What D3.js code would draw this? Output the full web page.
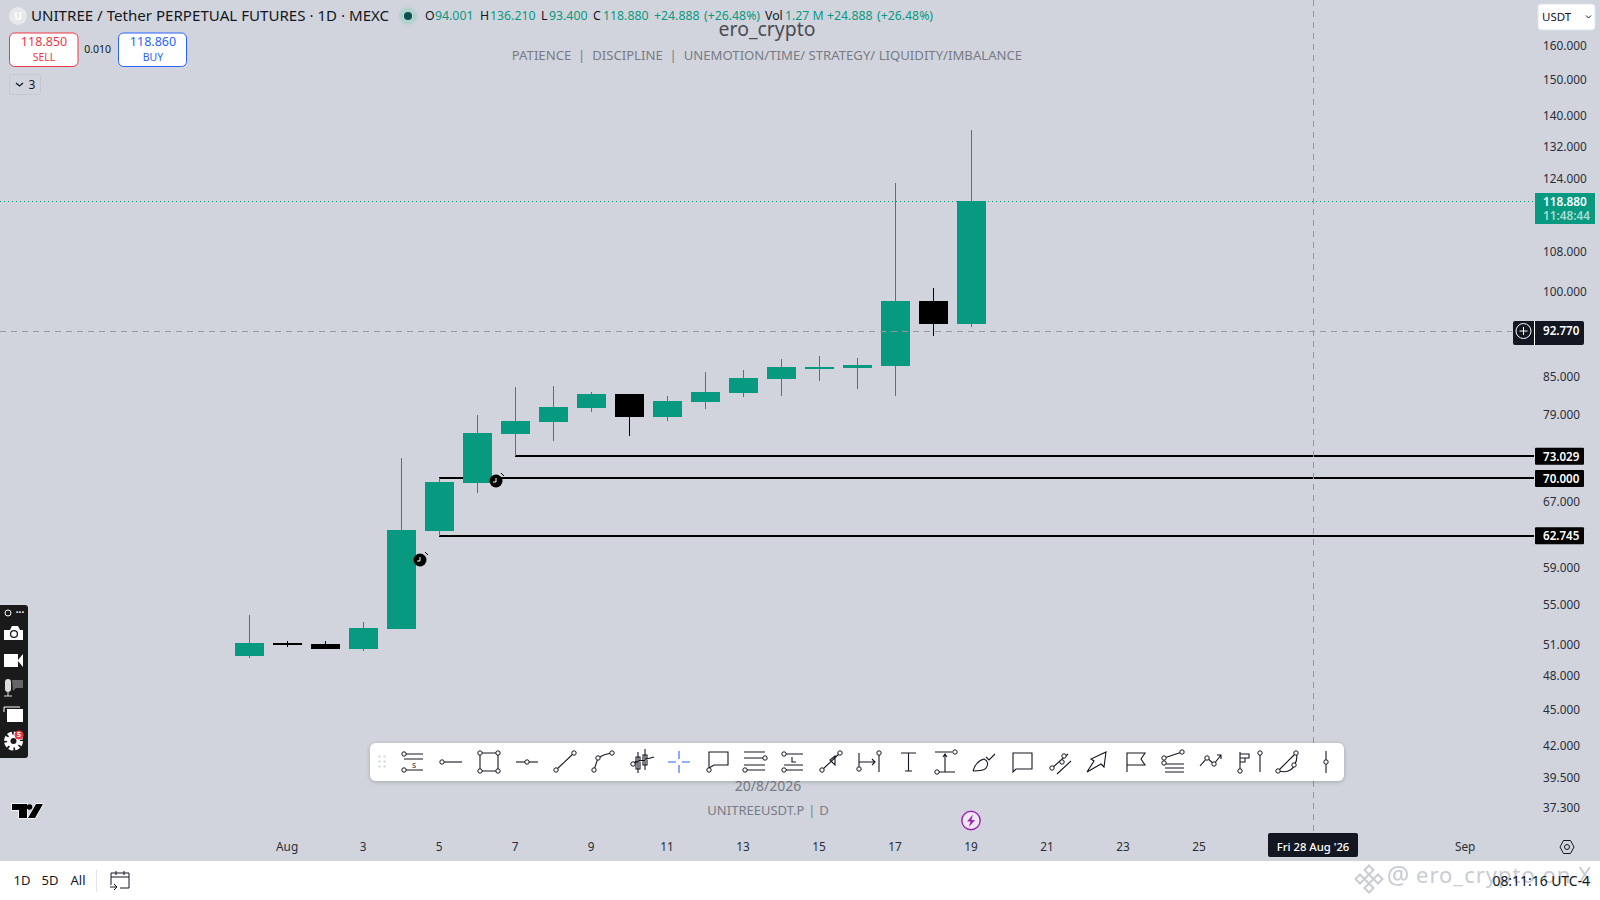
<!DOCTYPE html>
<html>
<head>
<meta charset="utf-8">
<script src="https://cdnjs.cloudflare.com/ajax/libs/d3/7.8.5/d3.min.js"></script>
<style>
	html, body { margin: 0; padding: 0; background: #d1d4dc; overflow: hidden; }
	svg { display: block; }
	text { font-family: "Noto Sans", "Open Sans", sans-serif; }
	.axis text { font-size: 11.8px; fill: #2a2e39; }
	.axis path, .axis line { display: none; }
	.crisp { shape-rendering: crispEdges; }
</style>
</head>
<body>
<div id="content"></div>
<script>
var days = [
	"2026-07-31", "2026-08-01", "2026-08-02", "2026-08-03", "2026-08-04",
	"2026-08-05", "2026-08-06", "2026-08-07", "2026-08-08", "2026-08-09",
	"2026-08-10", "2026-08-11", "2026-08-12", "2026-08-13", "2026-08-14",
	"2026-08-15", "2026-08-16", "2026-08-17", "2026-08-18", "2026-08-19"
];
var opens = [49.85, 51.11, 51.01, 50.53, 52.49, 63.30, 69.38, 76.19, 77.97, 80.08, 82.24, 78.72, 81.01, 82.40, 84.64, 86.43, 86.43, 86.77, 98.24, 94.001];
var highs = [53.92, 51.31, 51.31, 53.20, 72.78, 70.00, 79.01, 83.36, 83.51, 82.56, 82.24, 81.94, 85.78, 86.11, 87.94, 88.43, 88.10, 123.09, 100.70, 136.21];
var lows = [49.66, 50.72, 50.53, 50.34, 52.49, 62.745, 68.08, 73.029, 75.18, 79.47, 75.90, 78.11, 79.92, 81.78, 81.94, 84.32, 83.04, 81.94, 91.89, 93.40];
var closes = [51.11, 50.92, 50.53, 52.60, 63.43, 69.52, 76.33, 78.11, 80.22, 82.24, 78.72, 81.15, 82.56, 84.80, 86.59, 86.59, 86.93, 98.24, 94.00, 118.88];

var priceTicks = [160, 150, 140, 132, 124, 108, 100, 85, 79, 67, 59, 55, 51, 48, 45, 42, 39.5, 37.3];
var dayTicks = [
	"2026-08-01", "2026-08-03", "2026-08-05", "2026-08-07", "2026-08-09", "2026-08-11", "2026-08-13",
	"2026-08-15", "2026-08-17", "2026-08-19", "2026-08-21", "2026-08-23", "2026-08-25", "2026-09-01"
];

var levelPrices = [73.029, 70, 62.745];
var levelStarts = ["2026-08-07", "2026-08-05", "2026-08-05"];
var lastPrice = 118.88;
var crossPrice = 92.77;
var crossDay = "2026-08-28";

var green = "#089981";
var ink = "#131722";
var grey = "#787b86";

var parseDay = d3.utcParse("%Y-%m-%d");

var x = d3.scaleUtc()
	.domain([parseDay(days[0]), parseDay(days[days.length - 1])])
	.range([249.3, 971.3]);

var y = d3.scaleLog()
	.domain([160, 37.3])
	.range([45.7, 808]);

var svg = d3.select("#content").append("svg")
	.attr("width", 1600).attr("height", 900);

var defs = svg.append("defs");
var shadow = defs.append("filter").attr("id", "shadow")
	.attr("x", "-2%").attr("y", "-20%").attr("width", "104%").attr("height", "150%");
shadow.append("feDropShadow")
	.attr("dx", 0).attr("dy", 1).attr("stdDeviation", 2)
	.attr("flood-color", "#000").attr("flood-opacity", 0.22);

svg.append("rect").attr("width", 1600).attr("height", 900).attr("fill", "#d1d4dc");

var label = function (parent, str, px, py, size, color, anchor, weight) {
	return parent.append("text")
		.attr("x", px).attr("y", py)
		.attr("dy", "0.35em")
		.attr("font-size", size)
		.attr("fill", color)
		.attr("text-anchor", anchor || "start")
		.attr("font-weight", weight || 400)
		.text(str);
};

// last price line and drawn levels go under the candles
var lines = svg.append("g").attr("class", "crisp");

lines.append("line")
	.attr("x1", 0).attr("x2", 1534)
	.attr("y1", y(lastPrice)).attr("y2", y(lastPrice))
	.attr("stroke", green).attr("stroke-width", 1).attr("stroke-dasharray", "1 3");

levelPrices.forEach(function (p, i) {
	lines.append("line")
		.attr("x1", x(parseDay(levelStarts[i]))).attr("x2", 1534)
		.attr("y1", y(p)).attr("y2", y(p))
		.attr("stroke", "#000").attr("stroke-width", 2);
});

// candles
var candles = svg.append("g").attr("class", "crisp");
var step = x(parseDay(days[1])) - x(parseDay(days[0]));
var bodyW = step * 0.763;

var isUp = function (i) { return closes[i] >= opens[i]; };
var candleColor = function (i) { return isUp(i) ? green : "#000"; };

candles.selectAll("line.wick").data(days)
	.enter()
	.append("line")
	.attr("class", "wick")
	.attr("x1", function (d) { return x(parseDay(d)); })
	.attr("x2", function (d) { return x(parseDay(d)); })
	.attr("y1", function (d, i) { return y(highs[i]); })
	.attr("y2", function (d, i) { return y(lows[i]); })
	.attr("stroke", function (d, i) { return candleColor(i); })
	.attr("stroke-width", 1);

candles.selectAll("rect.body").data(days)
	.enter()
	.append("rect")
	.attr("class", "body")
	.attr("x", function (d) { return x(parseDay(d)) - bodyW / 2; })
	.attr("width", bodyW)
	.attr("y", function (d, i) { return y(Math.max(opens[i], closes[i])); })
	.attr("height", function (d, i) {
		return Math.max(1.5, y(Math.min(opens[i], closes[i])) - y(Math.max(opens[i], closes[i])));
	})
	.attr("fill", function (d, i) { return candleColor(i); });

// crosshair on top
lines = svg.append("g").attr("class", "crisp");
lines.append("line")
	.attr("x1", 0).attr("x2", 1512)
	.attr("y1", y(crossPrice)).attr("y2", y(crossPrice))
	.attr("stroke", "#9598a1").attr("stroke-width", 1).attr("stroke-dasharray", "6 5");
lines.append("line")
	.attr("x1", x(parseDay(crossDay))).attr("x2", x(parseDay(crossDay)))
	.attr("y1", 0).attr("y2", 833)
	.attr("stroke", "#9598a1").attr("stroke-width", 1).attr("stroke-dasharray", "6 5");

// alarm markers
[[420, 560], [496, 481]].forEach(function (p) {
	var a = svg.append("g").attr("transform", "translate(" + p[0] + "," + p[1] + ")");
	a.append("circle").attr("r", 6.5).attr("fill", "#000");
	a.append("path").attr("d", "M0 -3V1H-3").attr("stroke", "#fff").attr("fill", "none");
	a.append("path").attr("d", "M5 -8L8 -5").attr("stroke", "#000").attr("fill", "none");
});

// axes
var yAxis = d3.axisRight(y)
	.tickValues(priceTicks)
	.tickSize(0)
	.tickPadding(0)
	.tickFormat(d3.format(".3f"));
svg.append("g").attr("class", "axis")
	.attr("transform", "translate(1543,0)")
	.call(yAxis);

var xAxis = d3.axisBottom(x)
	.tickValues(dayTicks.map(parseDay))
	.tickSize(0)
	.tickPadding(0)
	.tickFormat(function (d) {
		if (d.getUTCDate() == 1) return d3.utcFormat("%b")(d);
		return d.getUTCDate();
	});
svg.append("g").attr("class", "axis")
	.attr("transform", "translate(-0.7,843)")
	.call(xAxis);

// price tags
var tag = function (p, val) {
	svg.append("rect")
		.attr("x", 1535).attr("width", 49).attr("y", y(p) - 8.5).attr("height", 17)
		.attr("rx", 1).attr("fill", "#000");
	label(svg, val, 1543, y(p) + 0.5, 11.6, "#fff", "start", 600);
};
levelPrices.forEach(function (p) { tag(p, d3.format(".3f")(p)); });

svg.append("rect")
	.attr("x", 1535).attr("width", 60).attr("y", 193).attr("height", 31)
	.attr("fill", green);
label(svg, "118.880", 1543, 201.5, 11.8, "#fff", "start", 600);
label(svg, "11:48:44", 1543, 216, 11.8, "#a8dcd2", "start", 600);

svg.append("rect").attr("x", 1513).attr("width", 71).attr("y", 321).attr("height", 24)
	.attr("rx", 2).attr("fill", ink);
svg.append("line").attr("x1", 1534.5).attr("x2", 1534.5).attr("y1", 321).attr("y2", 345)
	.attr("stroke", "#fff");
svg.append("circle").attr("cx", 1523.5).attr("cy", y(crossPrice)).attr("r", 7.5)
	.attr("fill", "none").attr("stroke", "#fff");
svg.append("path")
	.attr("d", "M1519.5 " + y(crossPrice) + "h8M1523.5 " + (y(crossPrice) - 4) + "v8")
	.attr("stroke", "#fff");
label(svg, "92.770", 1543, y(crossPrice), 11.6, "#fff", "start", 600);

svg.append("rect").attr("x", 1268).attr("width", 90).attr("y", 833).attr("height", 24)
	.attr("rx", 2).attr("fill", ink);
label(svg, "Fri 28 Aug '26", 1313, 847.5, 11.3, "#fff", "middle", 500);

// USDT button
svg.append("rect").attr("x", 1538).attr("y", 4).attr("width", 57).attr("height", 26)
	.attr("rx", 3).attr("fill", "#fff").attr("stroke", "#e0e3eb");
label(svg, "USDT", 1542, 17, 11.5, ink);
svg.append("path").attr("d", "M1586 15.5l2.5 2.5 2.5 -2.5").attr("fill", "none").attr("stroke", ink);

// settings at the end of the time axis
svg.append("circle").attr("cx", 1567).attr("cy", 847).attr("r", 2.5).attr("fill", "none").attr("stroke", ink);
svg.append("path").attr("d", "M1560 847l3.5 -6.5h7l3.5 6.5l-3.5 6.5h-7z").attr("fill", "none").attr("stroke", ink);

// legend header
svg.append("circle").attr("cx", 18).attr("cy", 16).attr("r", 9).attr("fill", "#e7e8ec");
label(svg, "U", 18, 16, 10, "#fff", "middle", 700);
label(svg, "UNITREE / Tether PERPETUAL FUTURES · 1D · MEXC", 31, 16, 15.1, ink);
svg.append("circle").attr("cx", 408).attr("cy", 16).attr("r", 9).attr("fill", "#b4d3cf");
svg.append("circle").attr("cx", 408).attr("cy", 16).attr("r", 4).attr("fill", "#0d4f4a");

var headerLabels = ["O", "H", "L", "C", "Vol"];
var headerLabelX = [425, 480, 541, 593, 765];
var headerValues = ["94.001", "136.210", "93.400", "118.880", "+24.888", "(+26.48%)", "1.27 M", "+24.888", "(+26.48%)"];
var headerValueX = [435, 490, 549, 603, 654, 704, 785, 827, 877];
headerLabels.forEach(function (s, i) { label(svg, s, headerLabelX[i], 16, 12.3, ink); });
headerValues.forEach(function (s, i) { label(svg, s, headerValueX[i], 16, 12.3, green); });

// sell / buy
svg.append("rect").attr("x", 9.5).attr("y", 33).attr("width", 68.5).attr("height", 33.5)
	.attr("rx", 5).attr("fill", "#fff").attr("stroke", "#f23645");
label(svg, "118.850", 44, 42, 12.5, "#f23645", "middle");
label(svg, "SELL", 44, 57, 10.5, "#f23645", "middle");
label(svg, "0.010", 97.7, 49.5, 10.5, ink, "middle");
svg.append("rect").attr("x", 118.5).attr("y", 33).attr("width", 68).attr("height", 33.5)
	.attr("rx", 5).attr("fill", "#fff").attr("stroke", "#2962ff");
label(svg, "118.860", 153, 42, 12.5, "#2962ff", "middle");
label(svg, "BUY", 153, 57, 10.5, "#2962ff", "middle");
svg.append("rect").attr("x", 9.5).attr("y", 74.5).attr("width", 31).attr("height", 20)
	.attr("rx", 2).attr("fill", "none").attr("stroke", "#c5c8d0");
svg.append("path").attr("d", "M16 83l3.5 3 3.5 -3").attr("fill", "none").attr("stroke", ink).attr("stroke-width", 1.3);
label(svg, "3", 32, 84.5, 12, ink, "middle");

// watermark titles
label(svg, "ero_crypto", 767, 29, 19.4, "#4a4c54", "middle");
label(svg, "PATIENCE  |  DISCIPLINE  |  UNEMOTION/TIME/ STRATEGY/ LIQUIDITY/IMBALANCE", 767, 55, 13.15, grey, "middle").style("white-space", "pre");
label(svg, "20/8/2026", 768, 786, 14, grey, "middle");
label(svg, "UNITREEUSDT.P  |  D", 768, 810, 13, grey, "middle").style("white-space", "pre").style("word-spacing", "-1.5px");

// drawing toolbar
svg.append("rect").attr("x", 370).attr("y", 743).attr("width", 974).attr("height", 38)
	.attr("rx", 6).attr("fill", "#fff").attr("filter", "url(#shadow)");
[[-2.5, -6], [2.5, -6], [-2.5, -1], [2.5, -1], [-2.5, 4], [2.5, 4]].forEach(function (p) {
	svg.append("rect").attr("x", 382 + p[0] - 1).attr("y", 762 + p[1] - 0.5).attr("width", 2).attr("height", 2)
		.attr("fill", "#d0d3da");
});

var toolX = [413, 451, 489, 527, 565, 603, 641, 679, 718, 754, 793, 831, 869, 908, 945, 984, 1022, 1060, 1097, 1136, 1173, 1211, 1248, 1287, 1326];
var toolPaths = [
	"M-7 -8H10M-9 -3H10M-7 8H10",
	"M-7 0H11",
	"M-9 -9H9V9H-9Z",
	"M-11 0H11",
	"M-9 8L9 -9",
	"M-9 8L-5 -4Q1 -8 9 -9",
	"M-9 1L13 -5M-3 -10V11M4 -13V8M-5 -5H-1V7H-5ZM2 -7H6V3H2Z",
	"M-11 0H-3M3 0H11M0 -11V-3M0 3V11",
	"M-9 6V-10H10V3H-4L-9 6",
	"M-10 -10H11M-10 -4H9M-10 3H11M-7 8H11",
	"M-7 -8H10M-9 3H10M-7 8H10M-1 -5V0H3",
	"M-9 8L9 -9M4 -6L-1 -2L4 3Z",
	"M-10 -9V5M-10 0H6M3 -3L6 0L3 3M10 -8V10",
	"M-7 -9H8M0.5 -9V9M-3 9H4",
	"M-10 -10H7M-8 10H10M0 -8V10M-2 -5L0 -8L2 -5",
	"M-11 9Q-8 -1 0 -3Q6 0 2 6Q0 9 -11 9M2 -5L5 -2L11 -8",
	"M-9 -9H10V7H-6L-9 10Z",
	"M-8 6L8 -8M-3 12L11 -1",
	"M-10 10L-3 -1L-6 -3L9 -10L7 5L4 2L-10 10",
	"M-9 10V-9H9L5 -3L9 3H-9",
	"M-9 -4L9 -10M-7 2H11M-8 6H11M-8 10H11",
	"M-11 4L-4 -4L3 2L10 -7M6 -7H10V-3",
	"M-8 8V-10M-8 -8H1V-4H-8M-8 -4H-3V0H-8M12 -8V10",
	"M-9 9L9 -9M-8 9Q4 12 8 2Q11 -4 9 -9",
	"M0 -11V11"
];
var toolDots = [
	[[-9, -8], [-9, 8]], [[-9, 0]], [[-9, -9], [9, -9], [9, 9], [-9, 9]], [[0, 0]],
	[[-9, 8], [9, -9]], [[-9, 8], [-5, -4], [9, -9]], [[-8, 2]], [],
	[[-9, 8]], [[11, -4], [-9, 8]], [[-9, -8], [-9, 8]], [[-9, 8], [9, -9]],
	[[10, -9], [-10, 7]], [], [[10, -10], [-8, 10]], [],
	[], [[-8, 6], [4, -6], [2, 0]], [], [],
	[[-9, -4], [9, -10], [-9, 1]], [[-4, -4], [3, 2]], [[-8, 9], [12, -9]], [[-9, 9], [9, -9], [7, 3]], [[0, 0]]
];
toolX.forEach(function (tx, i) {
	var g = svg.append("g").attr("transform", "translate(" + tx + ",762)");
	g.append("path").attr("d", toolPaths[i]).attr("fill", "none")
		.attr("stroke", i == 7 ? "#2962ff" : ink).attr("stroke-width", 1.1);
	toolDots[i].forEach(function (p) {
		g.append("circle").attr("cx", p[0]).attr("cy", p[1]).attr("r", 2.2)
			.attr("fill", "#fff").attr("stroke", ink);
	});
});
label(svg, "S", 414, 765, 7.5, ink, "middle");

// lightning badge
svg.append("circle").attr("cx", 971).attr("cy", 820.5).attr("r", 10)
	.attr("fill", "#fff");
svg.append("circle").attr("cx", 971).attr("cy", 820.5).attr("r", 9.2)
	.attr("fill", "#f0e7f5").attr("stroke", "#9c27b0").attr("stroke-width", 1.5);
svg.append("path").attr("d", "M973 814.5l-6 7h3.5l-1.5 5.5l6 -7h-3.5z").attr("fill", "#9c27b0");

// tradingview logo
svg.append("path")
	.attr("d", "M12 804H27V818H19V810H12ZM28 818L36 804H43L35 818Z")
	.attr("fill", "#000").attr("stroke", "#fff").attr("stroke-width", 1.5).attr("paint-order", "stroke");
svg.append("circle").attr("cx", 29.5).attr("cy", 807).attr("r", 2.8).attr("fill", "#000");

// recorder panel
svg.append("rect").attr("x", -4).attr("y", 605).attr("width", 32).attr("height", 153)
	.attr("rx", 3).attr("fill", "#1a1a1a");
svg.append("circle").attr("cx", 8).attr("cy", 613).attr("r", 3).attr("fill", "none").attr("stroke", "#fff");
label(svg, "···", 20, 612, 10, "#fff", "middle", 700);
svg.append("path").attr("d", "M4 630H10L12 626H18L20 630H23V640H4Z").attr("fill", "#fff");
svg.append("circle").attr("cx", 14).attr("cy", 634).attr("r", 3.4).attr("fill", "#fff").attr("stroke", "#1a1a1a").attr("stroke-width", 1.3);
svg.append("path").attr("d", "M4 654H18V667H4ZM18 660L23 654V667L18 661Z").attr("fill", "#fff");
svg.append("rect").attr("x", 5).attr("y", 679).attr("width", 6).attr("height", 13).attr("rx", 3).attr("fill", "#ddd");
svg.append("path").attr("d", "M8 692V696M4 696H12").attr("stroke", "#ddd");
svg.append("path").attr("d", "M12 680H23V688H16L13 691Z").attr("fill", "#666");
svg.append("path").attr("d", "M4 712V707H20").attr("fill", "none").attr("stroke", "#fff");
svg.append("rect").attr("x", 7).attr("y", 709).attr("width", 16).attr("height", 13).attr("fill", "#fff");
svg.append("circle").attr("cx", 13.5).attr("cy", 741).attr("r", 7).attr("fill", "#1a1a1a")
	.attr("stroke", "#fff").attr("stroke-width", 5).attr("stroke-dasharray", "4 1.5");
svg.append("circle").attr("cx", 13.5).attr("cy", 741).attr("r", 6.5).attr("fill", "#fff");
svg.append("circle").attr("cx", 13.5).attr("cy", 741).attr("r", 3).attr("fill", "#1a1a1a");
svg.append("circle").attr("cx", 19).attr("cy", 735).attr("r", 4.5).attr("fill", "#f23645");
label(svg, "5", 19, 735, 7, "#fff", "middle", 700);

// bottom bar
svg.append("rect").attr("x", 0).attr("y", 861).attr("width", 1600).attr("height", 39).attr("fill", "#fff");
label(svg, "1D", 22, 880, 13, ink, "middle");
label(svg, "5D", 50, 880, 13, ink, "middle");
label(svg, "All", 78, 880, 13, ink, "middle");
svg.append("line").attr("x1", 96.5).attr("x2", 96.5).attr("y1", 870).attr("y2", 892).attr("stroke", "#e0e3eb");
svg.append("path").attr("d", "M111 885V873H129V888H120M111 877H129M116 871V875M124 871V875M110 887H117M114 884L117 887L114 890")
	.attr("fill", "none").attr("stroke", ink);

// screenshot watermark
svg.append("g").attr("transform", "translate(1369,879)")
	.selectAll("path").data([[0, -9], [-9, 0], [9, 0], [0, 9], [0, 0]])
	.enter().append("path")
	.attr("transform", function (d) { return "translate(" + d[0] + "," + d[1] + ")"; })
	.attr("d", "M0 -4.5L4.5 0L0 4.5L-4.5 0Z")
	.attr("fill", "none").attr("stroke", "#c9ccd3").attr("stroke-width", 2);
label(svg, "@", 1398, 875, 25, "#c9ccd3", "middle");
label(svg, "ero_crypto on X", 1416, 875, 22, "#c9ccd3").style("letter-spacing", "1px");
label(svg, "08:11:16 UTC-4", 1590, 881, 13.9, ink, "end");
</script>
</body>
</html>
